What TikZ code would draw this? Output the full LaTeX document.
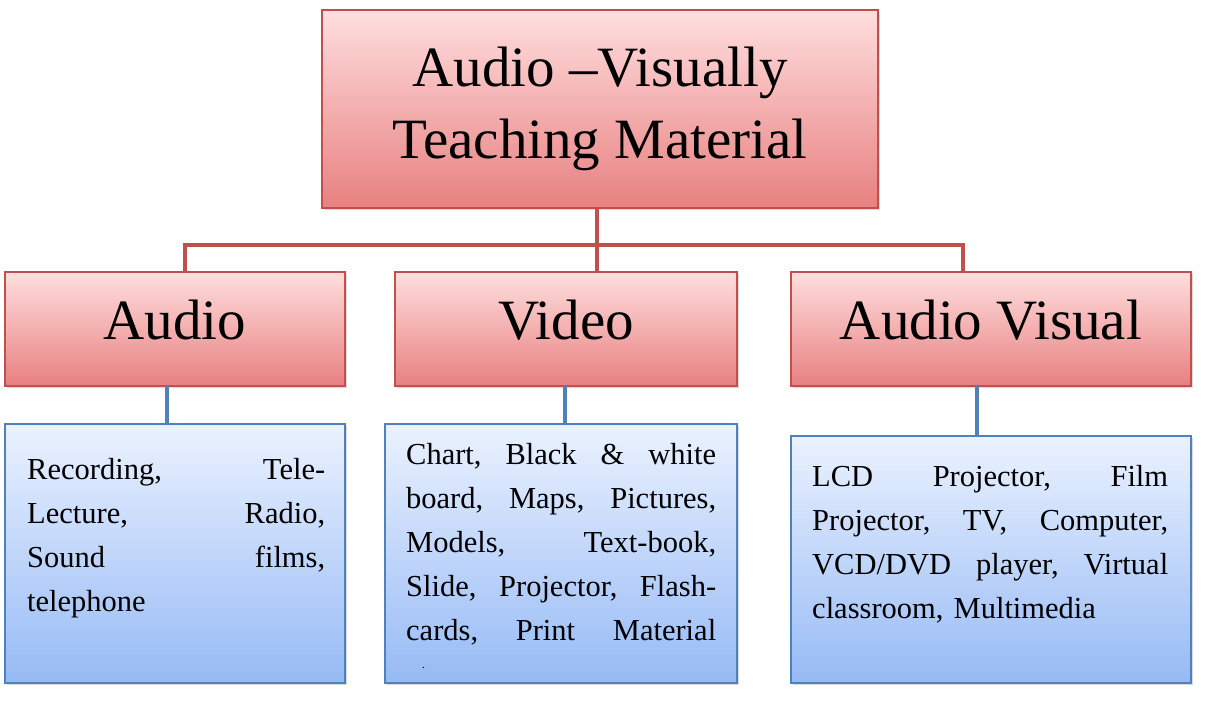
\documentclass[tikz,border=0pt]{standalone}
\usepackage{fontspec}
\setmainfont{Liberation Serif}
\usetikzlibrary{shadows}
\definecolor{redline}{RGB}{192,80,77}
\definecolor{blueline}{RGB}{79,129,189}
\tikzset{
  redbox/.style={draw=redline,line width=1.5pt,top color={rgb,255:red,255;green,222;blue,222},bottom color={rgb,255:red,232;green,128;blue,128},drop shadow={shadow xshift=2pt,shadow yshift=-2pt,opacity=0.3}},
  bluebox/.style={draw=blueline,line width=1.5pt,top color={rgb,255:red,235;green,242;blue,255},bottom color={rgb,255:red,150;green,186;blue,245},drop shadow={shadow xshift=2pt,shadow yshift=-2pt,opacity=0.3}},
  rcon/.style={draw=redline,line width=4pt},
  bcon/.style={draw=blueline,line width=4pt},
  btext/.style={anchor=north west,inner sep=0pt,align=left,font=\fontsize{30.5}{44}\selectfont}
}
\begin{document}
\begin{tikzpicture}[x=1pt,y=-1pt]
\useasboundingbox (0,0) rectangle (1205,701);
% connectors
\coordinate (tb) at (597,208);
\coordinate (j) at (597,245);
\draw[rcon] (tb) -- (j);
\draw[rcon] (185,272) -- (185,245) -- (963,245) -- (963,272);
\draw[rcon] (j) -- (597,272);
% top
\path[redbox] (322,10) rectangle (878,208);
\node (top) at (600,109) [align=center,font=\fontsize{57}{72}\selectfont] {Audio –Visually\\Teaching Material};
% second row
\path[redbox] (5,272) rectangle (345,386);
\node (a) at (175,320) [font=\fontsize{57}{64}\selectfont] {Audio};
\path[redbox] (395,272) rectangle (737,386);
\node (v) at (566,320) [font=\fontsize{57}{64}\selectfont] {Video};
\path[redbox] (791,272) rectangle (1191,386);
\node (av) at (991,320) [font=\fontsize{57}{64}\selectfont] {Audio Visual};
% blue connectors
\draw[bcon] (167,386) -- (167,424);
\draw[bcon] (565,386) -- (565,424);
\draw[bcon] (977,386) -- (977,436);
% blue boxes
\path[bluebox] (5,424) rectangle (345,683);
\path[bluebox] (385,424) rectangle (737,683);
\path[bluebox] (791,436) rectangle (1191,683);
\node[btext,text width=298pt] (at) at (27,458) {Recording,\hfill Tele-\\Lecture,\hfill Radio,\\Sound\hfill films,\\telephone};
\begin{scope}
\clip (385,424) rectangle (737,667);
\node[btext,text width=310pt] (vt) at (406,443) {Chart,\hfill Black\hfill \&\hfill white\\board,\hfill Maps,\hfill Pictures,\\Models,\hfill Text-book,\\Slide,\hfill Projector,\hfill Flash-\\cards,\hfill Print\hfill Material\\etc.};
\end{scope}
\node[btext,text width=356pt] (avt) at (812,465) {LCD\hfill Projector,\hfill Film\\Projector,\hfill TV,\hfill Computer,\\VCD/DVD\hfill player,\hfill Virtual\\classroom, Multimedia};
\end{tikzpicture}
\end{document}
